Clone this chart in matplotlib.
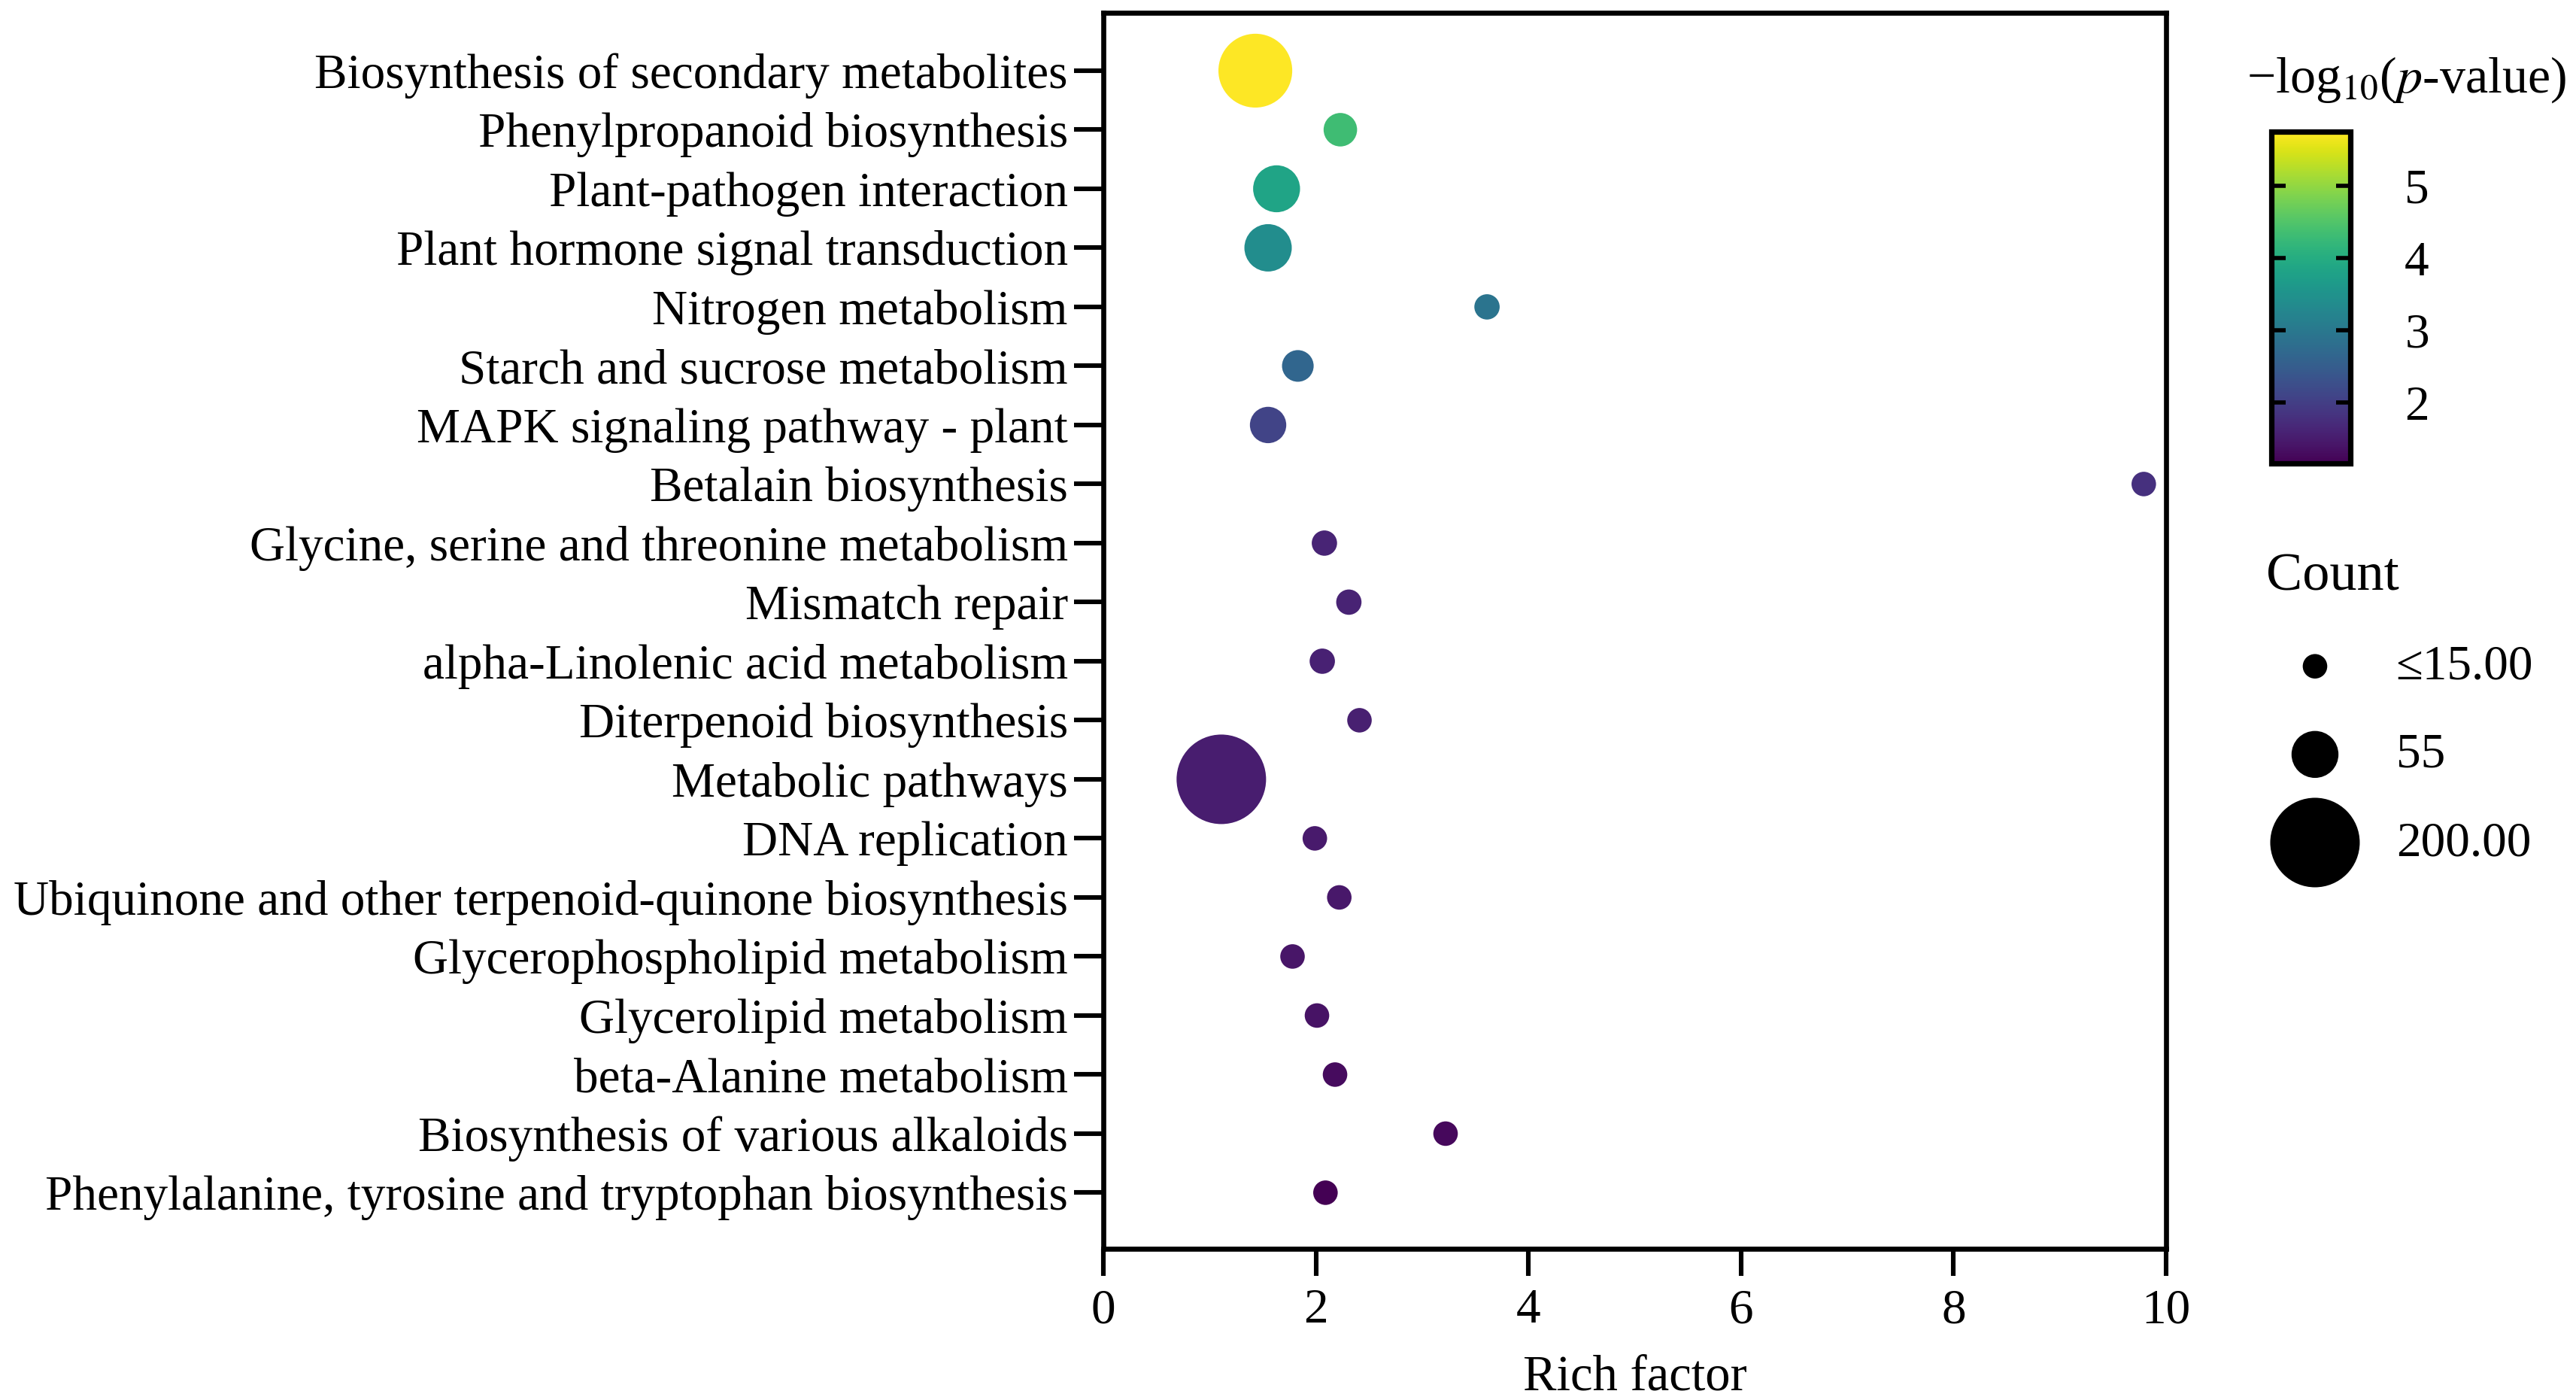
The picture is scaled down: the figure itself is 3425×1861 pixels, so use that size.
import matplotlib
matplotlib.use("Agg")
import matplotlib.pyplot as plt
import numpy as np
from matplotlib.cm import ScalarMappable
from matplotlib.colors import Normalize

plt.rcParams['font.family'] = ['Liberation Serif', 'DejaVu Serif']
plt.rcParams['mathtext.fontset'] = 'stix'

pathways = [
    "Biosynthesis of secondary metabolites",
    "Phenylpropanoid biosynthesis",
    "Plant-pathogen interaction",
    "Plant hormone signal transduction",
    "Nitrogen metabolism",
    "Starch and sucrose metabolism",
    "MAPK signaling pathway - plant",
    "Betalain biosynthesis",
    "Glycine, serine and threonine metabolism",
    "Mismatch repair",
    "alpha-Linolenic acid metabolism",
    "Diterpenoid biosynthesis",
    "Metabolic pathways",
    "DNA replication",
    "Ubiquinone and other terpenoid-quinone biosynthesis",
    "Glycerophospholipid metabolism",
    "Glycerolipid metabolism",
    "beta-Alanine metabolism",
    "Biosynthesis of various alkaloids",
    "Phenylalanine, tyrosine and tryptophan biosynthesis",
]
rich_factor = [1.43, 2.23, 1.63, 1.55, 3.61, 1.83, 1.55, 9.79, 2.08, 2.31,
               2.06, 2.41, 1.11, 1.99, 2.22, 1.78, 2.01, 2.18, 3.22, 2.09]
count = [136, 28, 55, 56, 16, 25, 33, 15, 16, 16,
         16, 15, 200, 15, 15, 15, 15, 15, 15, 15]
neglog_p = [5.75, 4.33, 3.84, 3.40, 2.93, 2.66, 2.08, 1.80, 1.62, 1.60,
            1.58, 1.56, 1.52, 1.48, 1.45, 1.42, 1.38, 1.30, 1.26, 1.16]
legend_counts = [15, 55, 200]
legend_labels = ["\u226415.00", "55", "200.00"]
cbar_ticks = [2, 3, 4, 5]
x_ticks = [0, 2, 4, 6, 8, 10]

W, H, DPI = 3425, 1861, 200
fig = plt.figure(figsize=(W / DPI, H / DPI), dpi=DPI)

ax_l, ax_r, ax_t, ax_b = 1467, 2880, 17, 1660
ax = fig.add_axes([ax_l / W, 1 - ax_b / H, (ax_r - ax_l) / W, (ax_b - ax_t) / H])

size_k = (119 * 72 / DPI) ** 2 / 200.0
norm = Normalize(vmin=min(neglog_p), vmax=max(neglog_p))
cmap = plt.get_cmap('viridis')
ypos = np.arange(len(pathways))
ax.scatter(rich_factor, ypos, s=np.array(count) * size_k, c=neglog_p,
           cmap=cmap, norm=norm, edgecolors='none', zorder=3)

n = len(pathways)
ax.set_ylim(n - 1 + 0.95, -0.98)
ax.set_xlim(0, 10)
ax.set_yticks(ypos)
ax.set_yticklabels(pathways, fontsize=23.5)
ax.set_xticks(x_ticks)
ax.set_xticklabels([str(t) for t in x_ticks], fontsize=23.5)
ax.tick_params(axis='y', length=14, width=2.2, pad=3, direction='out')
ax.tick_params(axis='x', length=13, width=2.2, pad=6, direction='out')
for sp in ax.spines.values():
    sp.set_linewidth(2.4)
ax.set_xlabel("Rich factor", fontsize=24, labelpad=10)

# colorbar
cb_l, cb_r, cb_t, cb_b = 3020, 3125, 175, 616
cax = fig.add_axes([cb_l / W, 1 - cb_b / H, (cb_r - cb_l) / W, (cb_b - cb_t) / H])
sm = ScalarMappable(norm=norm, cmap=cmap)
cbar = fig.colorbar(sm, cax=cax, ticks=cbar_ticks)
cbar.outline.set_linewidth(2.6)
cax.tick_params(direction='in', length=7, width=2, left=True, right=True,
                labelleft=False, labelright=True, labelsize=23.5, pad=26)
fig.text(3200 / W, 1 - 106 / H, "\u2212log$_{10}$($p$-value)", fontsize=24.5,
         ha='center', va='center')

# size legend
handles = [ax.scatter([], [], s=c * size_k, color='black', edgecolors='none')
           for c in legend_counts]
leg = fig.legend(handles, legend_labels, title="Count", loc='upper left',
                 bbox_to_anchor=(2967 / W, 1 - 689 / H), frameon=False,
                 fontsize=23.5, title_fontsize=26, labelspacing=0.88,
                 handletextpad=0.65, borderpad=0.2, alignment='left',
                 scatterpoints=1)

fig.savefig("out.png", dpi=DPI)
